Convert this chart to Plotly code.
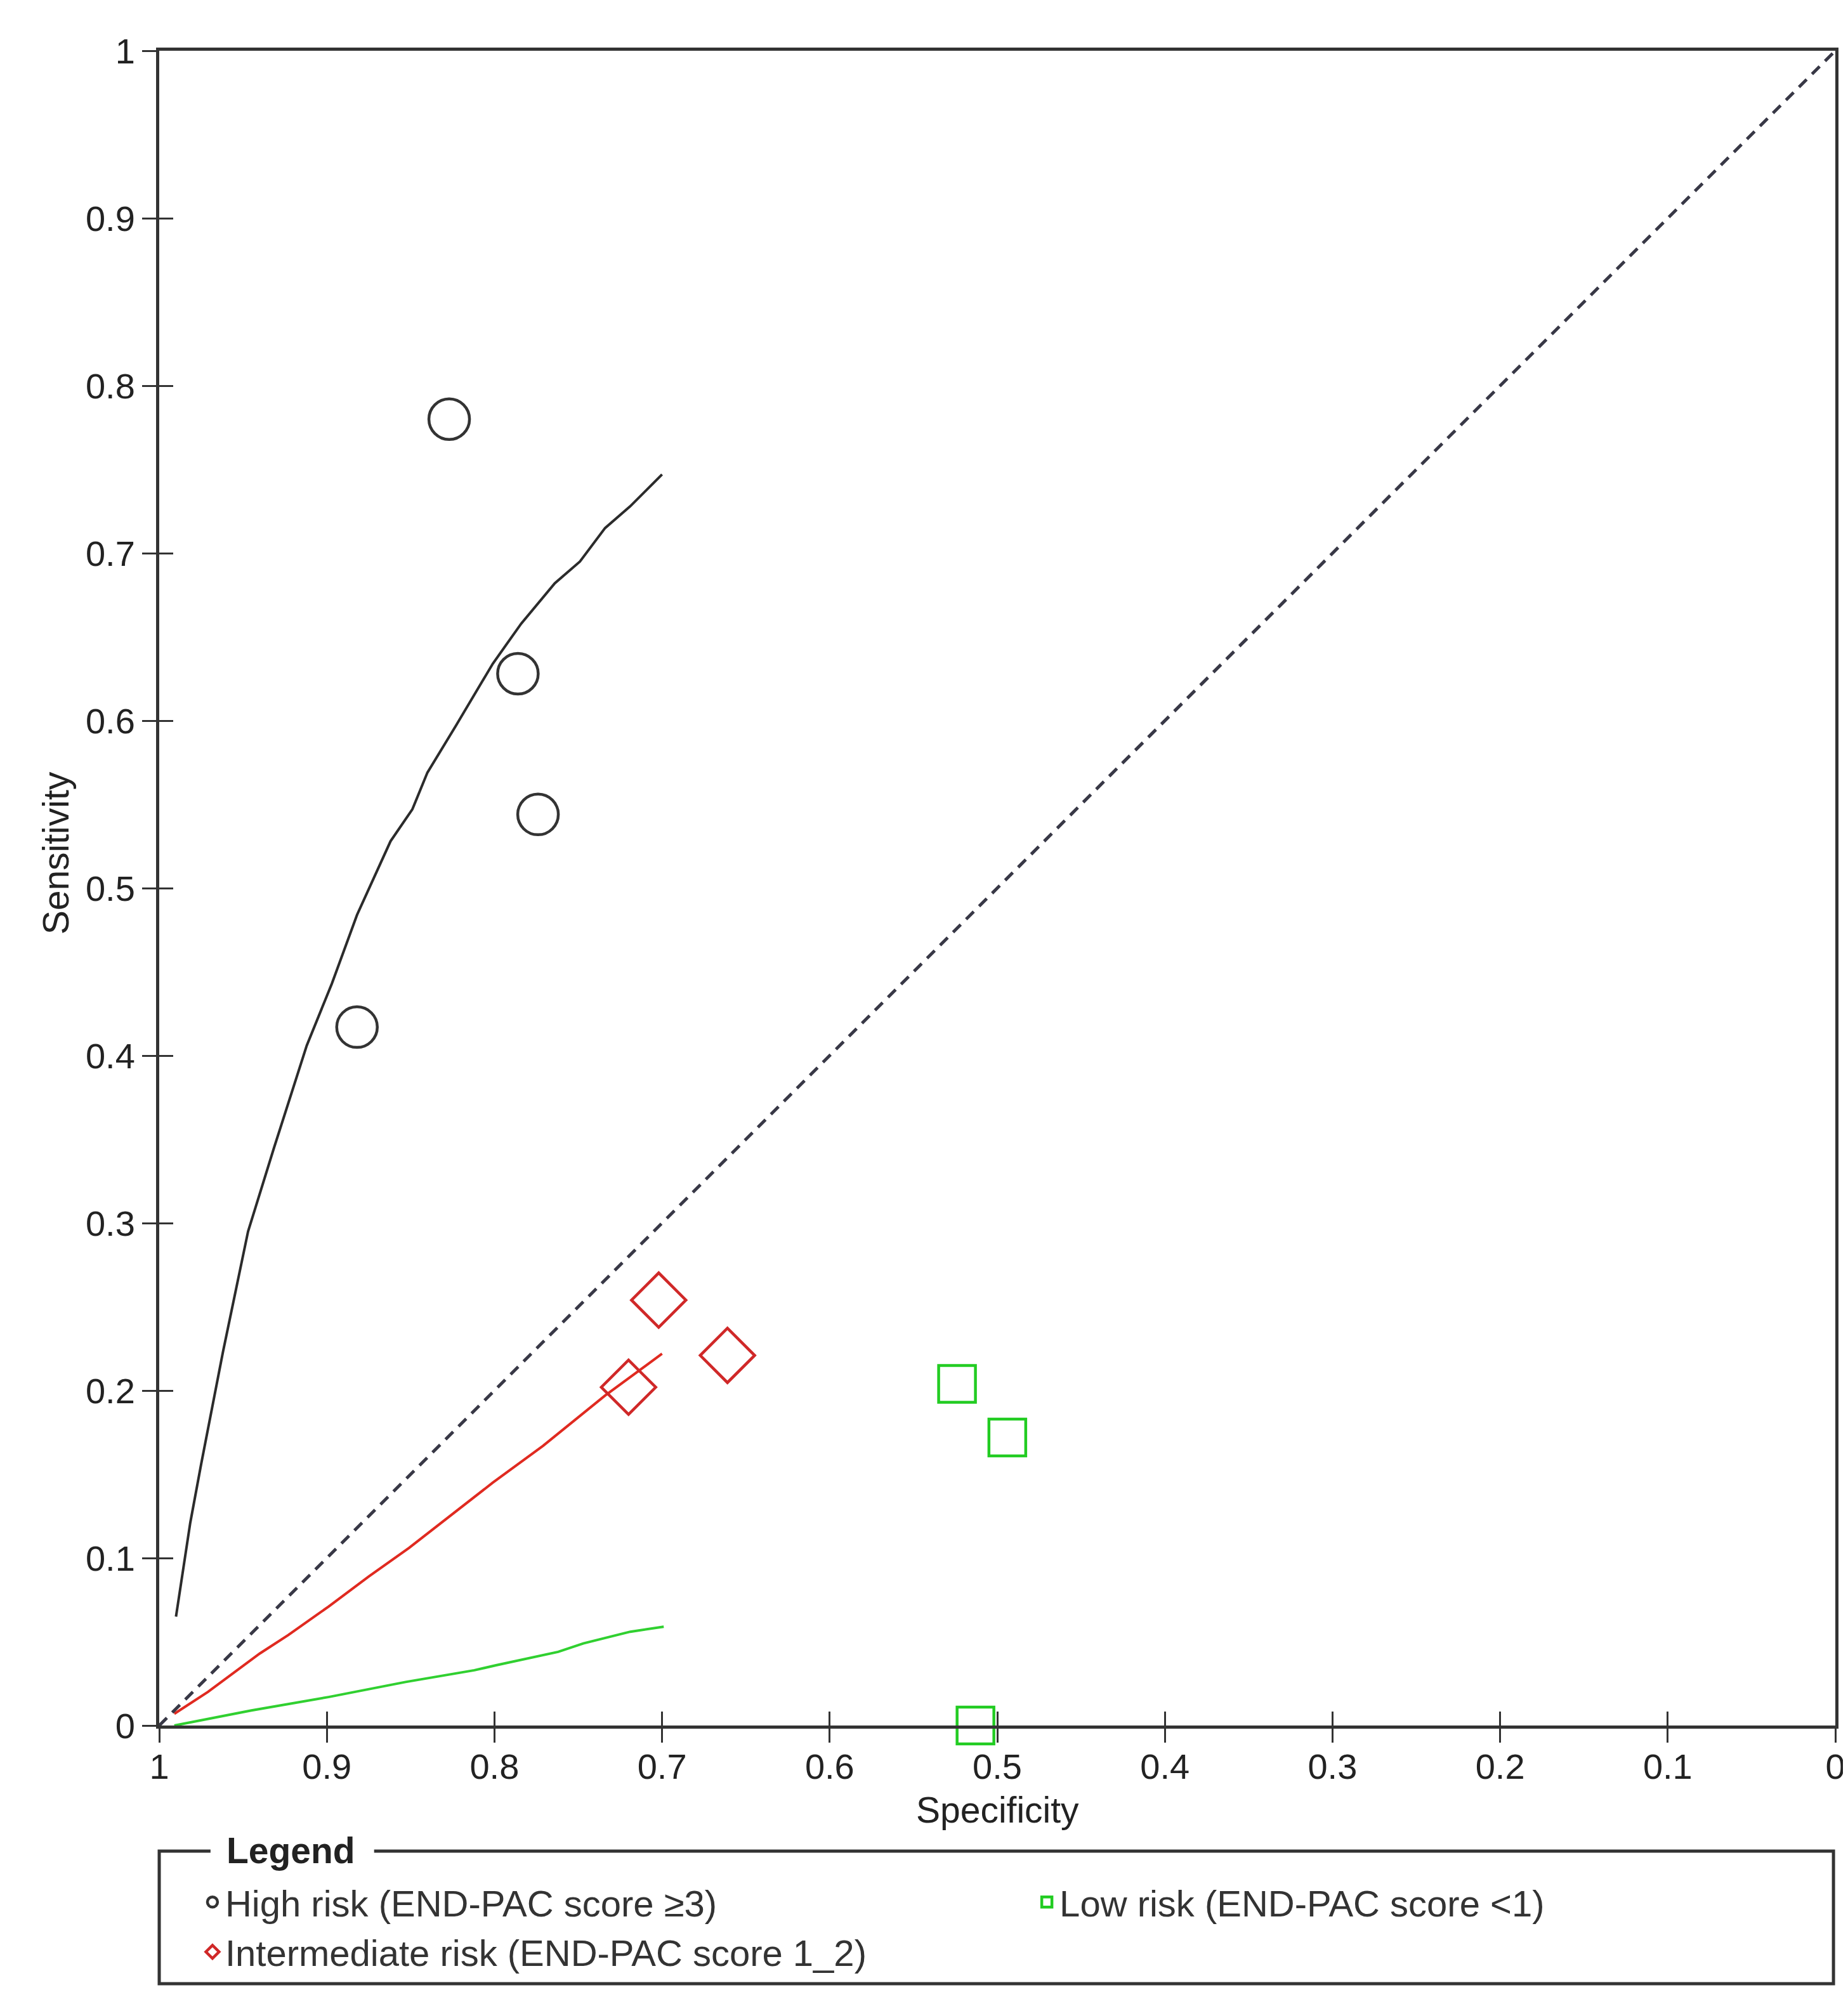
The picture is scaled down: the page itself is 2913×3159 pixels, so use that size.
import plotly.graph_objects as go

# ROC-style plot: specificity (reversed) vs sensitivity

# fitted curves
high_curve_spec = [0.990, 0.9815, 0.975, 0.962, 0.947, 0.9315, 0.912, 0.897, 0.882, 0.862,
                   0.849, 0.840, 0.823, 0.801, 0.784, 0.764, 0.749, 0.734, 0.719, 0.700]
high_curve_sens = [0.065, 0.121, 0.156, 0.223, 0.295, 0.345, 0.406, 0.443, 0.484, 0.528,
                   0.547, 0.569, 0.597, 0.634, 0.658, 0.682, 0.695, 0.715, 0.728, 0.747]

inter_curve_spec = [0.991, 0.971, 0.940, 0.923, 0.899, 0.875, 0.851, 0.823, 0.801, 0.771, 0.734, 0.700]
inter_curve_sens = [0.007, 0.020, 0.043, 0.054, 0.071, 0.089, 0.106, 0.128, 0.145, 0.167, 0.197, 0.222]

low_curve_spec = [0.991, 0.945, 0.899, 0.853, 0.812, 0.799, 0.762, 0.747, 0.719, 0.699]
low_curve_sens = [0.000, 0.009, 0.017, 0.026, 0.033, 0.036, 0.044, 0.049, 0.056, 0.059]

# study points
high_spec = [0.827, 0.786, 0.774, 0.882]
high_sens = [0.780, 0.628, 0.544, 0.417]

inter_spec = [0.702, 0.720, 0.661]
inter_sens = [0.254, 0.202, 0.221]

low_spec = [0.524, 0.494, 0.513]
low_sens = [0.204, 0.172, 0.000]

diag_spec = [1, 0]
diag_sens = [0, 1]

names = ["High risk (END-PAC score \u22653)",
         "Intermediate risk (END-PAC score 1_2)",
         "Low risk (END-PAC score <1)"]

FONT = "Liberation Sans, Arial, sans-serif"
AXIS_COL = "#333333"

fig = go.Figure()

# diagonal sits on the overlay axes so their inner ticks get drawn
fig.add_trace(go.Scatter(x=diag_spec, y=diag_sens, mode="lines", showlegend=False,
                         xaxis="x2", yaxis="y2",
                         line=dict(color="#383846", width=5, dash="17px,12px")))

fig.add_trace(go.Scatter(x=high_curve_spec, y=high_curve_sens, mode="lines", showlegend=False,
                         line=dict(color="#2b2b2b", width=4)))
fig.add_trace(go.Scatter(x=inter_curve_spec, y=inter_curve_sens, mode="lines", showlegend=False,
                         line=dict(color="#e02a20", width=4)))
fig.add_trace(go.Scatter(x=low_curve_spec, y=low_curve_sens, mode="lines", showlegend=False,
                         line=dict(color="#30d030", width=4)))

fig.add_trace(go.Scatter(x=high_spec, y=high_sens, mode="markers", name=names[0], legend="legend",
                         cliponaxis=False,
                         marker=dict(symbol="circle-open", size=64, color="#333333",
                                     line=dict(width=4.5))))
fig.add_trace(go.Scatter(x=inter_spec, y=inter_sens, mode="markers", name=names[1], legend="legend",
                         cliponaxis=False,
                         marker=dict(symbol="diamond-open", size=66, color="#d02828",
                                     line=dict(width=4.5))))
fig.add_trace(go.Scatter(x=low_spec, y=low_sens, mode="markers", name=names[2], legend="legend2",
                         cliponaxis=False,
                         marker=dict(symbol="square-open", size=58, color="#22cc22",
                                     line=dict(width=4.5))))

tickfont = dict(family=FONT, size=56, color="#222222")

fig.update_layout(
    width=2913, height=3159,
    margin=dict(l=243, r=26, t=72, b=447),
    paper_bgcolor="white", plot_bgcolor="white",
    font=dict(family=FONT, color="#222222"),
    xaxis=dict(range=[1, 0], tickmode="linear", tick0=0, dtick=0.1,
               ticks="outside", ticklen=22, tickwidth=3, tickcolor=AXIS_COL,
               showline=True, linewidth=5, linecolor=AXIS_COL, mirror=True,
               showgrid=False, zeroline=False, tickfont=tickfont, ticklabelstandoff=-10),
    xaxis2=dict(range=[1, 0], overlaying="x", anchor="y2", side="bottom",
                tickmode="linear", tick0=0, dtick=0.1,
                ticks="inside", ticklen=22, tickwidth=3, tickcolor=AXIS_COL,
                showticklabels=False, showline=False, showgrid=False, zeroline=False),
    yaxis=dict(range=[0, 1], tickmode="linear", tick0=0, dtick=0.1,
               ticks="outside", ticklen=22, tickwidth=3, tickcolor=AXIS_COL,
               showline=True, linewidth=5, linecolor=AXIS_COL, mirror=True,
               showgrid=False, zeroline=False, tickfont=tickfont),
    yaxis2=dict(range=[0, 1], overlaying="y", anchor="x2", side="left",
                tickmode="linear", tick0=0, dtick=0.1,
                ticks="inside", ticklen=22, tickwidth=3, tickcolor=AXIS_COL,
                showticklabels=False, showline=False, showgrid=False, zeroline=False),
    legend=dict(x=0.0242, y=-0.0887, xanchor="left", yanchor="top",
                bgcolor="rgba(0,0,0,0)", borderwidth=0,
                font=dict(family=FONT, size=58, color="#333333")),
    legend2=dict(x=0.522, y=-0.0887, xanchor="left", yanchor="top",
                 bgcolor="rgba(0,0,0,0)", borderwidth=0,
                 font=dict(family=FONT, size=58, color="#333333")),
    showlegend=True,
)

# legend frame with a gap for its title
fig.add_shape(type="path", xref="paper", yref="paper",
              path="M 0.0306,-0.0750 L 0,-0.0750 L 0,-0.1542 L 0.9989,-0.1542 "
                   "L 0.9989,-0.0750 L 0.1282,-0.0750",
              line=dict(color=AXIS_COL, width=5))

fig.add_annotation(text="<b>Legend</b>", xref="paper", yref="paper",
                   x=0.0393, y=-0.0745, xanchor="left", yanchor="middle",
                   showarrow=False, font=dict(family=FONT, size=57, color="#222222"))

fig.add_annotation(text="Specificity", xref="paper", yref="paper",
                   x=0.5, y=-0.0505, xanchor="center", yanchor="middle",
                   showarrow=False, font=dict(family=FONT, size=57, color="#222222"))
fig.add_annotation(text="Sensitivity", xref="paper", yref="paper",
                   x=-0.0616, y=0.5208, xanchor="center", yanchor="middle", textangle=-90,
                   showarrow=False, font=dict(family=FONT, size=57, color="#222222"))

fig.write_html("out.html")
